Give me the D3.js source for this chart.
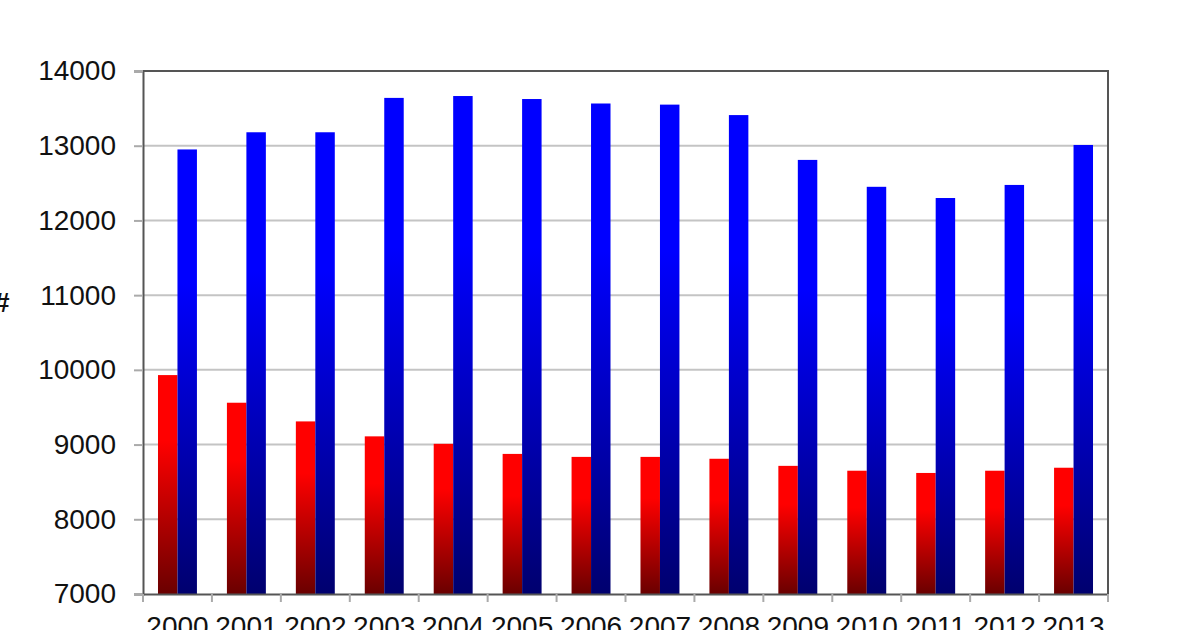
<!DOCTYPE html>
<meta charset="utf-8">
<head>
  <meta charset="UTF-8" />
  <title>Bars</title>
  <script src="https://d3js.org/d3.v7.min.js"></script>
</head>
<style>
  body { margin: 0; background: #fff; }
  svg text { font-family: "Liberation Sans", Arial, sans-serif; }
</style>
<div id="chart"></div>
<script>

  var years = ["2000","2001","2002","2003","2004","2005","2006","2007","2008","2009","2010","2011","2012","2013"]
  var series = ["red", "blue"]
  var redValues = [9930, 9560, 9310, 9110, 9010, 8875, 8835, 8835, 8810, 8715, 8650, 8620, 8650, 8690]
  var blueValues = [12950, 13180, 13180, 13640, 13665, 13625, 13565, 13550, 13410, 12810, 12450, 12300, 12475, 13010]
  var yTicks = [7000, 8000, 9000, 10000, 11000, 12000, 13000, 14000]
  var yLabel = "#"

  var width = 1200, height = 630
  var margin = {top: 71, right: 92, bottom: 36, left: 143}

  var svg = d3.select("#chart").append("svg")
    .attr("width", width)
    .attr("height", height)

  // gradient per bar, bright on top, dark at the base
  var defs = svg.append("defs")
  var grads = {red: ["#ff0000", "#6a0000"], blue: ["#0000ff", "#00006e"]}
  series.forEach(s => {
    var g = defs.append("linearGradient")
      .attr("id", "grad-" + s)
      .attr("x1", 0).attr("x2", 0)
      .attr("y1", 0).attr("y2", 1)
    g.append("stop").attr("offset", "0%").attr("stop-color", grads[s][0])
    g.append("stop").attr("offset", "30%").attr("stop-color", grads[s][0])
    g.append("stop").attr("offset", "100%").attr("stop-color", grads[s][1])
  })

  var x0 = d3.scaleBand()
    .domain(years)
    .range([margin.left, width - margin.right])
    .padding(0)

  var x1 = d3.scaleBand()
    .domain(series)
    .range([0, x0.bandwidth()])
    .paddingInner(0)
    .paddingOuter(0.77)

  var y = d3.scaleLinear()
    .domain([7000, 14000])
    .range([height - margin.bottom, margin.top])

  // grid lines
  svg.append("g")
    .selectAll("line")
    .data(yTicks.slice(1))
    .join("line")
      .attr("x1", margin.left)
      .attr("x2", width - margin.right)
      .attr("y1", d => y(d))
      .attr("y2", d => y(d))
      .style("stroke", "#c4c4c4")
      .style("stroke-width", 2)

  var data = years.map((yr, i) => ({year: yr, red: redValues[i], blue: blueValues[i]}))

  svg.append("g")
    .selectAll("g")
    .data(data)
    .join("g")
      .attr("transform", d => "translate(" + x0(d.year) + ",0)")
    .selectAll("rect")
    .data(d => series.map(s => ({key: s, value: d[s]})))
    .join("rect")
      .attr("x", d => x1(d.key))
      .attr("width", x1.bandwidth())
      .attr("y", d => y(d.value))
      .attr("height", d => y(7000) - y(d.value))
      .attr("fill", d => "url(#grad-" + d.key + ")")

  // frame top and right
  svg.append("path")
    .attr("d", d3.line()([[margin.left, margin.top], [width - margin.right, margin.top], [width - margin.right, height - margin.bottom]]))
    .attr("fill", "none")
    .attr("stroke", "#555")
    .attr("stroke-width", 2)

  // y axis
  var yAxis = svg.append("g")
    .attr("transform", "translate(" + margin.left + ",0)")
    .call(d3.axisLeft(y).tickValues(yTicks).tickFormat(d3.format("d")).tickSize(9).tickPadding(18))
  yAxis.select(".domain").attr("stroke", "#555").attr("stroke-width", 2)
  yAxis.selectAll(".tick line").attr("stroke", "#aaa").attr("stroke-width", 2)
  yAxis.selectAll("text").style("font-size", "28px").attr("fill", "#111")

  // x axis
  var xAxis = svg.append("g")
    .attr("transform", "translate(0," + (height - margin.bottom) + ")")
    .call(d3.axisBottom(x0).tickSize(0).tickPadding(22))
  xAxis.select(".domain").attr("stroke", "#555").attr("stroke-width", 2)
  xAxis.selectAll("text").style("font-size", "28px").attr("fill", "#111")

  // tick marks at the band edges
  svg.append("g")
    .selectAll("line")
    .data(years.concat(["end"]))
    .join("line")
      .attr("x1", (d, i) => i < years.length ? x0(d) : width - margin.right)
      .attr("x2", (d, i) => i < years.length ? x0(d) : width - margin.right)
      .attr("y1", height - margin.bottom)
      .attr("y2", height - margin.bottom + 8)
      .style("stroke", "#aaa")
      .style("stroke-width", 2)

  svg.append("text")
    .attr("x", -6)
    .attr("y", 312)
    .style("font-size", "28px")
    .style("font-weight", "bold")
    .attr("fill", "#111")
    .text(yLabel)

</script>
